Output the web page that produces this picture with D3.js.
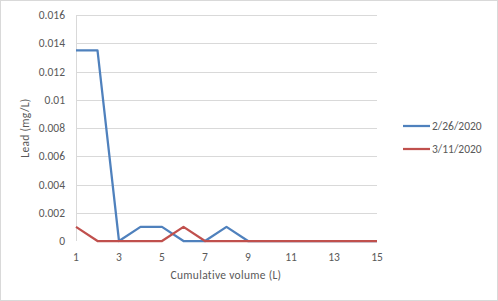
<!DOCTYPE html>
<html>
<head>
<meta charset="utf-8">
<script src="https://cdn.jsdelivr.net/npm/d3@7"></script>
<style>
  body { margin: 0; background: white; }
  text { font-family: "Carlito", "Liberation Sans", sans-serif; fill: #595959; }
</style>
</head>
<body>
<div class="chart"></div>
<script>
// Data
const volumes = [1, 2, 3, 4, 5, 6, 7, 8, 9, 10, 11, 12, 13, 14, 15];
const lead0226 = [0.0135, 0.0135, 0, 0.001, 0.001, 0, 0, 0.001, 0, 0, 0, 0, 0, 0, 0];
const lead0311 = [0.001, 0, 0, 0, 0, 0.001, 0, 0, 0, 0, 0, 0, 0, 0, 0];
const seriesNames = ["2/26/2020", "3/11/2020"];
const yTicks = [0, 0.002, 0.004, 0.006, 0.008, 0.01, 0.012, 0.014, 0.016];
const xTickLabels = [1, 3, 5, 7, 9, 11, 13, 15];

const width = 498, height = 301;
const colors = ["#4F81BD", "#C0504D"];

const svg = d3.select(".chart").append("svg")
  .attr("width", width)
  .attr("height", height);

// Chart border
svg.append("rect")
  .attr("x", 0.5).attr("y", 0.5)
  .attr("width", width - 1).attr("height", height - 1)
  .attr("fill", "white")
  .attr("stroke", "#d9d9d9");

const xScale = d3.scaleLinear().domain([1, 15]).range([76, 377]);
const yScale = d3.scaleLinear().domain([0, 0.016]).range([241, 15]);

// Gridlines
svg.append("g")
  .selectAll("line")
  .data(yTicks.filter((d) => d > 0))
  .enter()
  .append("line")
  .attr("x1", xScale(1)).attr("x2", xScale(15))
  .attr("y1", (d) => Math.round(yScale(d)) + 0.5)
  .attr("y2", (d) => Math.round(yScale(d)) + 0.5)
  .attr("stroke", "#d9d9d9");

// Y axis line
svg.append("line")
  .attr("x1", xScale(1) + 0.5).attr("x2", xScale(1) + 0.5)
  .attr("y1", yScale(0.016)).attr("y2", yScale(0))
  .attr("stroke", "#d9d9d9");

// Y tick labels
svg.append("g")
  .selectAll("text")
  .data(yTicks)
  .enter()
  .append("text")
  .attr("x", 65)
  .attr("y", (d) => yScale(d) + 4)
  .attr("text-anchor", "end")
  .attr("font-size", "11.5px")
  .text((d) => (d === 0 ? "0" : d3.format("")(+d.toFixed(3))));

// X tick labels
svg.append("g")
  .selectAll("text")
  .data(xTickLabels)
  .enter()
  .append("text")
  .attr("x", (d) => xScale(d))
  .attr("y", 261)
  .attr("text-anchor", "middle")
  .attr("font-size", "11.5px")
  .text((d) => d);

// Lines
const line = d3.line()
  .x((d, i) => xScale(volumes[i]))
  .y((d) => yScale(d));

[lead0226, lead0311].forEach((values, index) => {
  svg.append("path")
    .datum(values)
    .attr("d", line)
    .attr("fill", "none")
    .attr("stroke", colors[index])
    .attr("stroke-width", 2.25)
    .attr("stroke-linejoin", "round");
});

// Axis titles
svg.append("text")
  .attr("x", 226)
  .attr("y", 279)
  .attr("text-anchor", "middle")
  .attr("font-size", "11.5px")
  .attr("letter-spacing", "0.3px")
  .text("Cumulative volume (L)");

svg.append("text")
  .attr("transform", "translate(29,128) rotate(-90)")
  .attr("text-anchor", "middle")
  .attr("font-size", "11.5px")
  .attr("letter-spacing", "0.3px")
  .text("Lead (mg/L)");

// Legend
const legend = svg.append("g");
seriesNames.forEach((name, i) => {
  const y = 126 + i * 23;
  legend.append("line")
    .attr("x1", 403).attr("x2", 430)
    .attr("y1", y).attr("y2", y)
    .attr("stroke", colors[i])
    .attr("stroke-width", 2.25);
  legend.append("text")
    .attr("x", 432)
    .attr("y", y + 4)
    .attr("font-size", "11.5px")
    .text(name);
});
</script>
</body>
</html>
